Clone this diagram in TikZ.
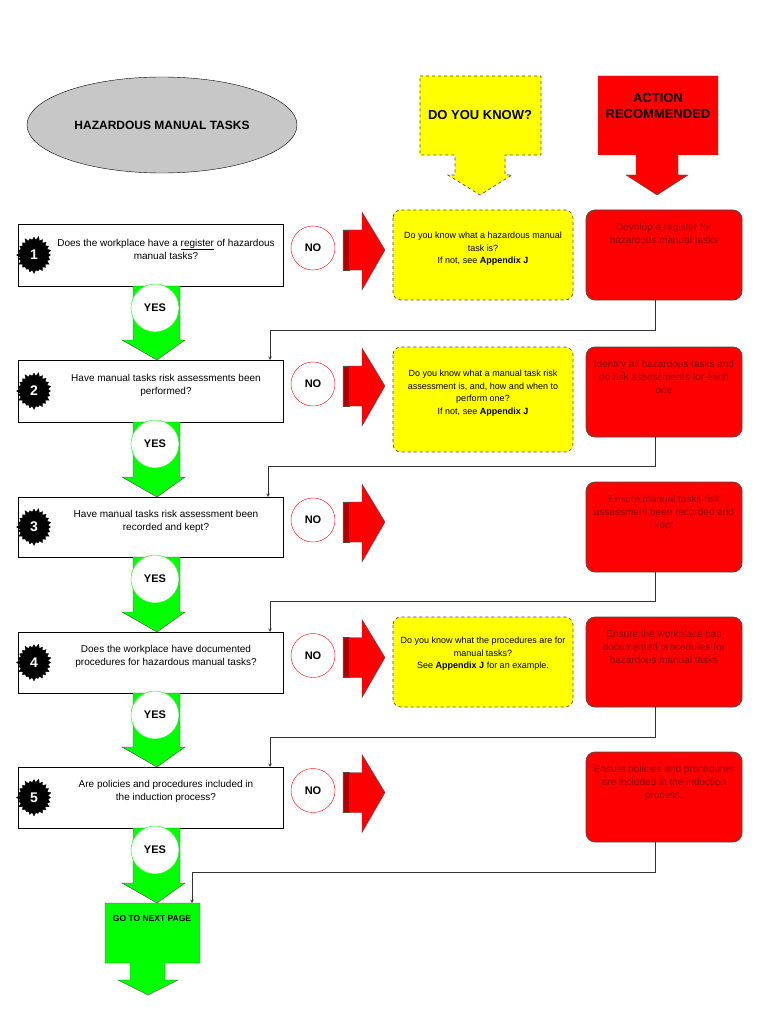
\documentclass[tikz,border=0pt]{standalone}
\usepackage{fontspec}
\setmainfont{Liberation Sans}
\usetikzlibrary{shapes.geometric,shapes.symbols}
\definecolor{ylw}{RGB}{255,255,0}
\definecolor{rd}{RGB}{255,0,0}
\definecolor{grn}{RGB}{0,255,0}
\definecolor{rtext}{RGB}{140,0,0}
\begin{document}
\begin{tikzpicture}[x=1pt,y=-1pt,font=\fontsize{10}{13}\selectfont,
 q/.style={draw=black,fill=white,line width=0.8pt},
 yb/.style={draw=black!70,dashed,fill=ylw,rounded corners=8pt,line width=0.7pt},
 rb/.style={draw=black!70,fill=rd,rounded corners=9pt,line width=0.7pt},
 nocirc/.style={circle,draw=rd,fill=white,minimum size=44pt,inner sep=0pt,font=\fontsize{11}{13}\selectfont\bfseries},
 yescirc/.style={circle,draw=grn,fill=white,minimum size=48pt,inner sep=0pt,font=\fontsize{11}{13}\selectfont\bfseries},
 star/.style={starburst,starburst points=24,starburst point height=4pt,fill=black,draw=black,minimum width=36pt,minimum height=38pt,inner sep=0pt,text=white,font=\fontsize{14}{15}\selectfont\bfseries},
 con/.style={draw=black!80,line width=0.6pt,-stealth}]
\useasboundingbox (0,0) rectangle (768,1024);
% title ellipse
\node[ellipse,draw=black,fill=black!22,minimum width=270pt,minimum height=96pt,font=\fontsize{12}{14}\selectfont\bfseries] (title) at (162,125) {HAZARDOUS MANUAL TASKS};
% headers
\draw[yb,rounded corners=0pt] (420,76) -- (541,76) -- (541,155) -- (505,155) -- (505,175) -- (512,175) -- (480,195) -- (448,175) -- (455,175) -- (455,155) -- (420,155) -- cycle;
\node[font=\fontsize{13}{15}\selectfont\bfseries] (dyk) at (480,115) {DO YOU KNOW?};
\draw[draw=black!70,fill=rd] (598,76) -- (718,76) -- (718,155) -- (678,155) -- (678,175) -- (688,175) -- (657,195) -- (626,175) -- (636,175) -- (636,155) -- (598,155) -- cycle;
\node[font=\fontsize{13}{16}\selectfont\bfseries,align=center] (act) at (658,106) {ACTION\\RECOMMENDED};
% questions
\foreach \n/\t/\b/\txt in {1/224/286/{Does the workplace have a \underline{register} of hazardous\\manual tasks?},
 2/360/422/{Have manual tasks risk assessments been\\performed?},
 3/497/557/{Have manual tasks risk assessment been\\recorded and kept?},
 4/632/693/{Does the workplace have documented\\procedures for hazardous manual tasks?},
 5/767/828/{Are policies and procedures included in\\the induction process?}}{
 \draw[q] (18,\t) rectangle (283,\b);
 \node[align=center] (q\n) at (166,{(\t+\b)/2-6}) {\txt};
 \node[star] (s\n) at (34,{(\t+\b)/2}) {\n};
 \node[nocirc] (no\n) at (313,{(\t+\b)/2-7}) {NO};
 \draw[draw=black!70,fill=rd] (343,{(\t+\b)/2-25}) -- (362,{(\t+\b)/2-25}) -- (362,{(\t+\b)/2-43}) -- (385,{(\t+\b)/2-5}) -- (362,{(\t+\b)/2+35}) -- (362,{(\t+\b)/2+15}) -- (343,{(\t+\b)/2+15}) -- cycle;
 \draw[black!70,fill=rd!70!black] (343,{(\t+\b)/2-25}) rectangle (349,{(\t+\b)/2+15});
}
% green arrows
\foreach \a/\bb in {286/360,422/497,557/632,693/767,828/903}{
 \draw[draw=black!70,fill=grn] (133,\a) -- (180,\a) -- (180,{\bb-20}) -- (185,{\bb-20}) -- (157,\bb) -- (122,{\bb-20}) -- (133,{\bb-20}) -- cycle;
 \node[yescirc] at (155,{\a+22}) {YES};
}
% yellow boxes
\draw[yb] (393,210) rectangle (573,300);
\node[align=center,font=\fontsize{9}{12.5}\selectfont] (y1) at (483,249) {Do you know what a hazardous manual\\task is?\\If not, see \textbf{Appendix J}};
\draw[yb] (393,347) rectangle (573,452);
\node[align=center,font=\fontsize{9}{12.5}\selectfont] (y2) at (483,393) {Do you know what a manual task risk\\assessment is, and, how and when to\\perform one?\\If not, see \textbf{Appendix J}};
\draw[yb] (393,617) rectangle (573,707);
\node[align=center,font=\fontsize{9}{12.5}\selectfont] (y4) at (483,654) {Do you know what the procedures are for\\manual tasks?\\See \textbf{Appendix J} for an example.};
% red boxes
\foreach \n/\t/\txt in {1/210/{Develop a register for\\hazardous manual tasks},
 2/347/{Identify all hazardous tasks and\\do risk assessments for each\\one},
 3/482/{Ensure manual tasks risk\\assessment been recorded and\\kept},
 4/617/{Ensure the workplace has\\documented procedures for\\hazardous manual tasks},
 5/752/{Ensure policies and procedures\\are included in the induction\\process.}}{
 \draw[rb] (586,\t) rectangle (742,{\t+90});
 \node[align=center,text=rtext,font=\fontsize{10}{13}\selectfont,anchor=north] (r\n) at (664,{\t+10}) {\txt};
 \coordinate (rb\n) at (655,{\t+90});
}
% connectors
\coordinate (c1) at (655,330); \coordinate (d1) at (270,330); \coordinate (e1) at (270,360);
\coordinate (c2) at (655,466); \coordinate (d2) at (268,466); \coordinate (e2) at (268,497);
\coordinate (c3) at (655,601); \coordinate (d3) at (270,601); \coordinate (e3) at (270,632);
\coordinate (c4) at (655,737); \coordinate (d4) at (270,737); \coordinate (e4) at (270,767);
\coordinate (c5) at (655,872); \coordinate (d5) at (192,872); \coordinate (e5) at (192,903);
\foreach \n in {1,...,5}{\draw[con] (rb\n) -- (c\n) -- (d\n) -- (e\n);}
% go to next page
\draw[draw=black!70,fill=grn] (105,903) -- (200,903) -- (200,963) -- (165,963) -- (165,980) -- (178,980) -- (148,995) -- (118,980) -- (130,980) -- (130,963) -- (105,963) -- cycle;
\node[font=\fontsize{8.5}{12}\selectfont\bfseries] (next) at (152,919) {GO TO NEXT PAGE};
\end{tikzpicture}
\end{document}
